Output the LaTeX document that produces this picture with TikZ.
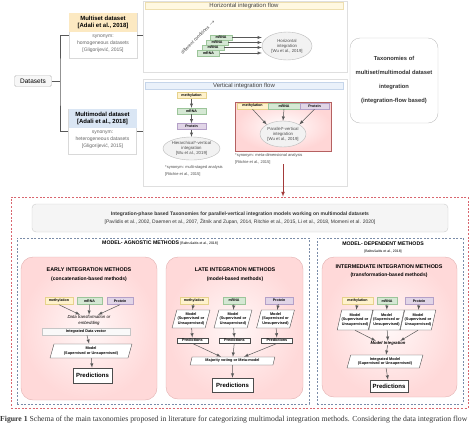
\documentclass[tikz,border=0pt]{standalone}
\usepackage{fontspec}
\setmainfont{Liberation Sans}
\newfontfamily\capfont{Liberation Serif}
\usetikzlibrary{shapes.geometric,positioning}
\newcommand{\fsz}[2]{\fontsize{#1}{#2}\selectfont}
\definecolor{methfill}{HTML}{FFF2CC}
\definecolor{methdraw}{HTML}{E6D28C}
\definecolor{mrnafill}{HTML}{D5E8D4}
\definecolor{mrnadraw}{HTML}{9CC59A}
\definecolor{protfill}{HTML}{E1D5E7}
\definecolor{protdraw}{HTML}{B4A0C8}
\definecolor{msfill}{HTML}{FCE9C2}
\definecolor{mmfill}{HTML}{DAE6F4}
\definecolor{htfill}{HTML}{FFF8E1}
\definecolor{htdraw}{HTML}{EEDFB0}
\definecolor{vtfill}{HTML}{EAF1FA}
\definecolor{vtdraw}{HTML}{C5D5EA}
\definecolor{darkred}{HTML}{A33A3A}
\definecolor{dashred}{HTML}{D9666F}
\definecolor{dashblue}{HTML}{7A8CA8}
\definecolor{pinkedge}{HTML}{E2B0B0}
\tikzset{
  conn/.style={draw=black!65, line width=0.5pt},
  arr/.style={conn, ->},
  omic/.style={draw=#1draw, fill=#1fill, minimum height=6pt, font=\fsz{3.6}{4}\bfseries},
  databox/.style={draw=gray!30, fill=white, minimum width=68pt, minimum height=45pt},
  dhead/.style={minimum width=68pt, minimum height=19pt, font=\fsz{6}{7}\bfseries},
  dbody/.style={font=\fsz{5}{7}, text=black!60},
  panel/.style={draw=gray!25, fill=white},
  ptitle/.style={minimum width=198pt, minimum height=7pt, font=\fsz{6}{7}, text=black!75},
  ell/.style={ellipse, draw=gray!55, fill=gray!10, font=\fsz{4.3}{5}, text=black!70},
  note/.style={align=left, font=\fsz{4}{7}, text=black!70},
  pinkpanel/.style={draw=pinkedge, inner color=red!3, outer color=red!15, rounded corners=12pt},
  mtitle/.style={font=\fsz{5.4}{6}\bfseries},
  msub/.style={font=\fsz{5}{6}\bfseries},
  model/.style={trapezium, trapezium left angle=70, trapezium right angle=110, trapezium stretches=true,
    draw=black!70, fill=white, font=\fsz{3.8}{4.4}\bfseries},
  pred/.style={draw=black!70, fill=white, line width=0.6pt, minimum width=40pt, minimum height=14pt, font=\fsz{6}{7}\bfseries},
  spred/.style={draw=black!70, fill=white, minimum width=31pt, minimum height=5.5pt, font=\fsz{3.8}{4}\bfseries},
  dashbox/.style={dashed, dash pattern=on 2pt off 1.6pt, line width=0.6pt}
}
\begin{document}
\begin{tikzpicture}[x=1pt, y=-1pt, >=latex, every node/.style={inner sep=0pt, align=center}]
\useasboundingbox (0,0) rectangle (474,424);
% datasets and their two kinds
\node[draw=gray!55, fill=gray!6, rounded corners=1.5pt, minimum width=37pt, minimum height=11pt, font=\fsz{6.5}{7}] (datasets) at (33,81) {Datasets};
\node[databox] (ms) at (103,35.5) {};
\node[dhead, fill=msfill, anchor=north] (mshead) at (ms.north) {Multiset dataset\\{[}Adali et al., 2018{]}};
\node[dbody, below=2pt of mshead] (msbody) {synonym:\\homogeneous datasets\\{[}Gligorijević, 2015{]}};
\node[databox] (mm) at (102.5,131.5) {};
\node[dhead, fill=mmfill, anchor=north] (mmhead) at (mm.north) {Multimodal dataset\\{[}Adali et al., 2018{]}};
\node[dbody, below=2pt of mmhead] (mmbody) {synonym:\\heterogeneous datasets\\{[}Gligorijević, 2015{]}};
\coordinate (fork) at (60,81);
\draw[conn] (datasets) -- (fork);
\draw[conn] (ms.west) -| (fork) |- (mm.west);
% horizontal flow
\node[panel, minimum width=204pt, minimum height=71pt] (hpanel) at (245,36.5) {};
\node[ptitle, fill=htfill, draw=htdraw] (htitle) at (244,6) {Horizontal integration flow};
\draw[conn] (ms.east) -- (ms.east -| hpanel.west);
\node[rotate=45, font=\fsz{4.5}{5}, text=black!75] (cond) at (198,37) {different conditions $\rightarrow$};
\foreach \i/\x/\y in {1/221/37.5, 2/217/42.5, 3/213/47.5, 4/208.5/53}
  \node[omic=mrna, minimum width=22pt, minimum height=5.5pt] (m\i) at (\x,\y) {mRNA};
\node[ell, minimum width=50pt, minimum height=28pt] (hint) at (287,46) {Horizontal\\integration\\{[}Wu et al., 2019{]}};
\foreach \i in {1,...,4}
  \draw[arr] (m\i.east) -- (m\i.east -| hint.west);
% vertical flow
\node[panel, minimum width=204pt, minimum height=107pt] (vpanel) at (245,132.5) {};
\node[ptitle, fill=vtfill, draw=vtdraw] (vtitle) at (244,86) {Vertical integration flow};
\draw[conn] (mm.east) -- (mm.east -| vpanel.west);
\node[omic=meth, minimum width=29pt] (vmeth) at (191.5,95.5) {methylation};
\node[omic=mrna, minimum width=29pt] (vmrna) at (191.5,111) {mRNA};
\node[omic=prot, minimum width=29pt] (vprot) at (191.5,126.5) {Protein};
\node[ell, minimum width=57pt, minimum height=23pt] (hier) at (191.5,148.5) {Hierarchical*-vertical\\integration\\{[}Wu et al., 2019{]}};
\draw[arr] (vmeth) -- (vmrna);
\draw[arr] (vmrna) -- (vprot);
\draw[arr] (vprot) -- (hier);
\node[note, anchor=north west] (hnote) at (165,165) {*synonym: multi-staged analysis\\{[}Ritchie et al., 2015{]}};
\node[draw=darkred!80, inner color=white, outer color=red!16, minimum width=96pt, minimum height=49pt] (pbox) at (283,126.5) {};
\node[omic=meth, minimum width=31pt] (pmeth) at (252.5,106) {methylation};
\node[omic=mrna, minimum width=32pt] (pmrna) at (284,106) {mRNA};
\node[omic=prot, minimum width=29pt] (pprot) at (314.5,106) {Protein};
\node[ell, minimum width=46pt, minimum height=26pt] (pint) at (283,134) {Parallel*-vertical\\integration\\{[}Wu et al., 2019{]}};
\draw[arr] (pmeth.south) -- (pint.150);
\draw[arr] (pmrna.south) -- (pint.north);
\draw[arr] (pprot.south) -- (pint.30);
\node[note, anchor=north west] (pnote) at (235,153) {*synonym: meta-dimensional analysis\\{[}Ritchie et al., 2015{]}};
% taxonomies
\node[draw=gray!50, rounded corners=10pt, minimum width=88pt, minimum height=85pt, font=\fsz{5.8}{14}\bfseries, text=black!80] (taxo) at (394,80.5) {Taxonomies of\\multiset/multimodal dataset\\integration\\(integration-flow based)};
% integration-phase taxonomies
\node[draw=dashred, dashbox, minimum width=457pt, minimum height=211pt] (outer) at (239.5,302.5) {};
\draw[->, darkred, line width=0.7pt] (pint |- pnote.south) -- (pint |- outer.north);
\node[draw=gray!40, fill=gray!8, rounded corners=4pt, minimum width=416pt, minimum height=28pt, font=\fsz{5}{8}, text=black!80] (phase) at (240,218) {\textbf{Integration-phase based Taxonomies for parallel-vertical integration models working on multimodal datasets}\\{[}Pavlidis et al., 2002, Daemen et al., 2007, Žitnik and Zupan, 2014, Ritchie et al., 2015, Li et al., 2018, Momeni et al. 2020{]}};
\node[draw=dashblue, dashbox, minimum width=292pt, minimum height=166pt] (agn) at (163,321) {};
\node[draw=dashblue, dashbox, minimum width=146pt, minimum height=166pt] (dep) at (390,321) {};
\node[font=\fsz{5.2}{6}\bfseries] (agntitle) at (160,243) {MODEL- AGNOSTIC METHODS {\mdseries\fsz{3.5}{4}{[}Baltrušaitis et al., 2018{]}}};
\node[font=\fsz{5.2}{6}\bfseries] (deptitle) at (383,243.5) {MODEL- DEPENDENT METHODS};
\node[font=\fsz{3.5}{4}] (depcite) at (383,252) {{[}Baltrušaitis et al., 2018{]}};
% early integration
\node[pinkpanel, minimum width=136pt, minimum height=143pt] (early) at (89,328.5) {};
\node[mtitle] (etitle) at (89,270) {EARLY INTEGRATION METHODS};
\node[msub] (esub) at (89,279) {(concatenation-based methods)};
\node[omic=meth, minimum width=28pt, minimum height=7pt] (emeth) at (59,301) {methylation};
\node[omic=mrna, minimum width=25pt, minimum height=7pt] (emrna) at (89.5,301) {mRNA};
\node[omic=prot, minimum width=26pt, minimum height=7pt] (eprot) at (120,301) {Protein};
\node[font=\fsz{4.3}{6}\itshape] (etrans) at (89,320) {Data transformation or\\embedding};
\draw[arr] (emeth.south) -- (etrans.150);
\draw[arr] (emrna.south) -- (etrans.north);
\draw[arr] (eprot.south) -- (etrans.30);
\node[draw=gray!45, fill=gray!5, minimum width=88pt, minimum height=7pt, font=\fsz{3.8}{4}\bfseries] (evec) at (86,331.5) {Integrated Data vector};
\node[model, minimum width=82pt, minimum height=14pt] (emodel) at (91,351) {Model\\(Supervised or Unsupervised)};
\node[pred, minimum width=39pt, minimum height=15pt] (epred) at (92.5,375.5) {Predictions};
\draw[arr] (evec) -- (emodel);
\draw[arr] (emodel) -- (epred);
% late integration
\node[pinkpanel, minimum width=137pt, minimum height=142pt] (late) at (234.5,328) {};
\node[mtitle] (ltitle) at (235,270) {LATE INTEGRATION METHODS};
\node[msub] (lsub) at (235,279) {(model-based methods)};
\node[omic=meth, minimum width=28pt, minimum height=7pt] (lmeth) at (194,300.5) {methylation};
\node[omic=mrna, minimum width=22pt, minimum height=7pt] (lmrna) at (234,300.5) {mRNA};
\node[omic=prot, minimum width=28pt, minimum height=7pt] (lprot) at (279,300.5) {Protein};
\foreach \i/\x in {1/191, 2/233, 3/275.5} {
  \node[model, minimum width=38pt, minimum height=18pt] (lmod\i) at (\x,319) {Model\\(Supervised or\\Unsupervised)};
  \node[spred] (lpred\i) at (\x+1.5,340.5) {Predictions};
  \draw[arr] (lmod\i) -- (lpred\i);
}
\draw[arr] (lmeth) -- (lmod1);
\draw[arr] (lmrna) -- (lmod2);
\draw[arr] (lprot) -- (lmod3);
\node[model, minimum width=85pt, minimum height=8pt] (lmaj) at (232.5,361) {Majority voting or Meta-model};
\draw[arr] (lpred1.south) -- (lmaj.160);
\draw[arr] (lpred2) -- (lmaj);
\draw[arr] (lpred3.south) -- (lmaj.20);
\node[pred, minimum width=41pt, minimum height=14pt] (lpred) at (232.5,385) {Predictions};
\draw[arr] (lmaj) -- (lpred);
% intermediate integration
\node[pinkpanel, minimum width=135pt, minimum height=140pt] (inter) at (389.5,327) {};
\node[mtitle] (ititle) at (389,267) {INTERMEDIATE INTEGRATION METHODS};
\node[msub] (isub) at (389,275) {(transformation-based methods)};
\node[omic=meth, minimum width=31pt, minimum height=7pt] (imeth) at (357.5,301) {methylation};
\node[omic=mrna, minimum width=20pt, minimum height=7pt] (imrna) at (387,301) {mRNA};
\node[omic=prot, minimum width=28pt, minimum height=7pt] (iprot) at (419,301) {Protein};
\foreach \i/\x in {1/355, 2/386.5, 3/418}
  \node[model, minimum width=34pt, minimum height=20pt] (imod\i) at (\x,320) {Model\\(Supervised or\\Unsupervised)};
\draw[arr] (imeth) -- (imod1);
\draw[arr] (imrna) -- (imod2);
\draw[arr] (iprot) -- (imod3);
\node[font=\fsz{4.2}{5}\bfseries\itshape] (iint) at (388,343) {Model Integration};
\draw[arr] (imod1.south) -- (iint.170);
\draw[arr] (imod2) -- (iint);
\draw[arr] (imod3.south) -- (iint.10);
\node[model, minimum width=76pt, minimum height=13pt] (imodel) at (385,361.5) {Integrated Model\\(Supervised or Unsupervised)};
\node[pred, minimum width=38pt, minimum height=12pt] (ipred) at (389,386) {Predictions};
\draw[arr] (iint) -- (imodel);
\draw[arr] (imodel) -- (ipred);
% caption
\node[anchor=west, font=\capfont\fsz{7.7}{9}, text=black!80] (caption) at (0,419.5) {\textbf{Figure 1} Schema of the main taxonomies proposed in literature for categorizing multimodal integration methods. Considering the data integration flow};
\end{tikzpicture}
\end{document}
